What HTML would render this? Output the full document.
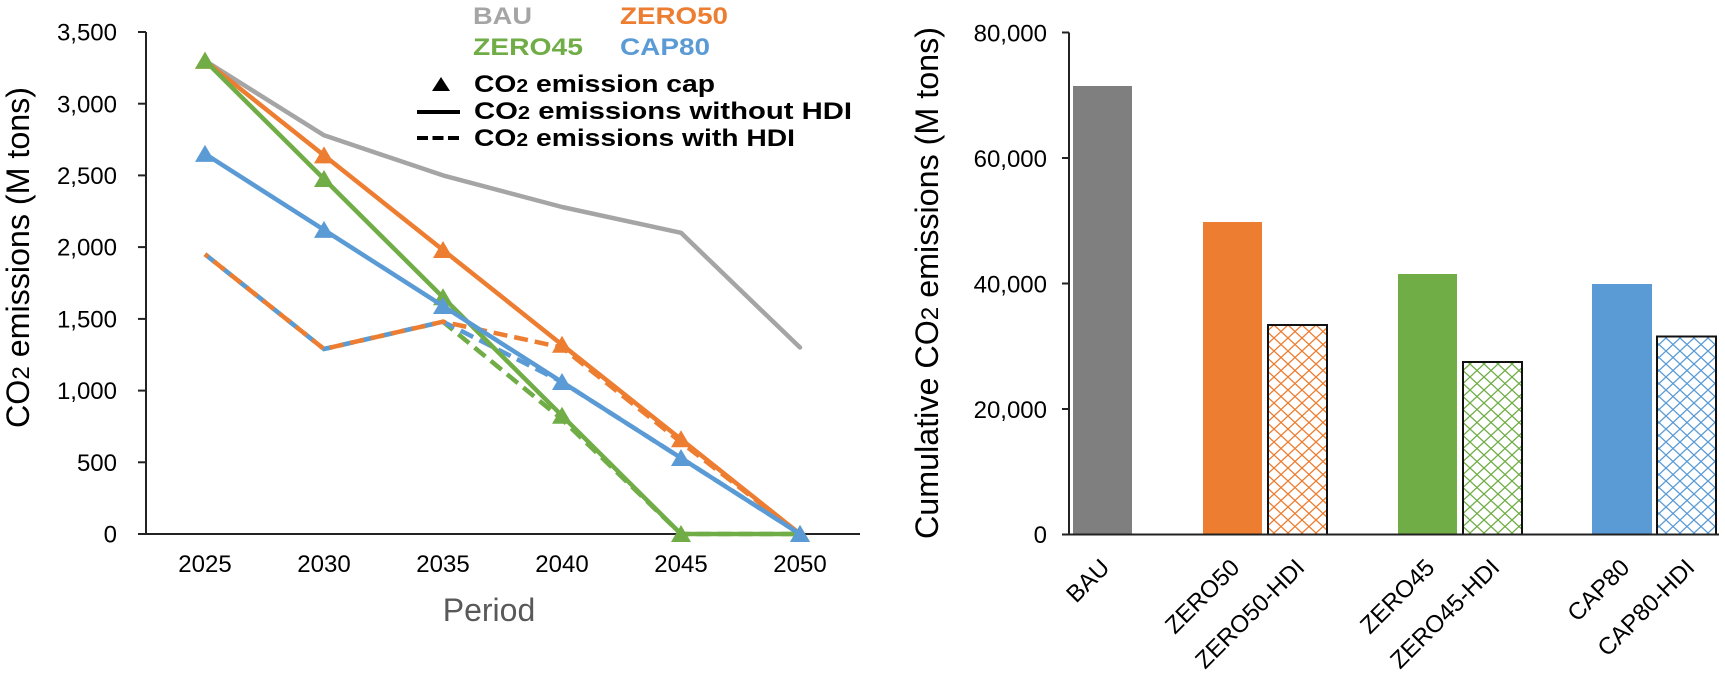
<!DOCTYPE html>
<html>
<head>
<meta charset="utf-8">
<style>
  html, body { margin: 0; padding: 0; background: #ffffff; }
  svg { display: block; }
  text { font-family: "Liberation Sans", Arial, sans-serif; }
</style>
</head>
<body>
<svg width="1725" height="673" viewBox="0 0 1725 673" xmlns="http://www.w3.org/2000/svg">
  <defs>
    <pattern id="hO" patternUnits="userSpaceOnUse" width="14" height="13">
      <path d="M0,0 L14,13 M14,0 L0,13" stroke="#ED7D31" stroke-width="1.3" fill="none"/>
    </pattern>
    <pattern id="hG" patternUnits="userSpaceOnUse" width="14" height="13">
      <path d="M0,0 L14,13 M14,0 L0,13" stroke="#70AD47" stroke-width="1.3" fill="none"/>
    </pattern>
    <pattern id="hB" patternUnits="userSpaceOnUse" width="14" height="13">
      <path d="M0,0 L14,13 M14,0 L0,13" stroke="#5B9BD5" stroke-width="1.3" fill="none"/>
    </pattern>
  </defs>
  <rect x="0" y="0" width="1725" height="673" fill="#ffffff"/>

  <!-- ================= LEFT CHART ================= -->
  <text transform="translate(29,257.5) rotate(-90)" text-anchor="middle" font-size="32" fill="#000" textLength="341" lengthAdjust="spacingAndGlyphs">CO<tspan font-size="24">2</tspan> emissions (M tons)</text>

  <g font-size="24" fill="#000" text-anchor="end">
    <text x="117" y="40.6">3,500</text>
    <text x="117" y="112.3">3,000</text>
    <text x="117" y="184.0">2,500</text>
    <text x="117" y="255.7">2,000</text>
    <text x="117" y="327.4">1,500</text>
    <text x="117" y="399.1">1,000</text>
    <text x="117" y="470.9">500</text>
    <text x="117" y="542.6">0</text>
  </g>

  <g stroke="#222" stroke-width="2" fill="none">
    <line x1="146" y1="32" x2="146" y2="535"/>
    <line x1="138" y1="534" x2="860" y2="534"/>
    <line x1="138" y1="32" x2="146" y2="32"/>
    <line x1="138" y1="103.7" x2="146" y2="103.7"/>
    <line x1="138" y1="175.4" x2="146" y2="175.4"/>
    <line x1="138" y1="247.1" x2="146" y2="247.1"/>
    <line x1="138" y1="318.9" x2="146" y2="318.9"/>
    <line x1="138" y1="390.6" x2="146" y2="390.6"/>
    <line x1="138" y1="462.3" x2="146" y2="462.3"/>
  </g>

  <g font-size="24" fill="#000" text-anchor="middle">
    <text x="205" y="572">2025</text>
    <text x="324" y="572">2030</text>
    <text x="443" y="572">2035</text>
    <text x="562" y="572">2040</text>
    <text x="681" y="572">2045</text>
    <text x="800" y="572">2050</text>
  </g>
  <text x="489" y="621" font-size="32" fill="#595959" text-anchor="middle">Period</text>

  <!-- BAU -->
  <polyline points="205,60.7 324,135.3 443,175.4 562,207 681,232.8 800,347.5" fill="none" stroke="#A5A5A5" stroke-width="4.5" stroke-linejoin="round" stroke-linecap="round"/>

  <!-- Dashed (with HDI) -->
  <polyline points="205,254.3 324,349 443,321.7 562,419.3 681,534 800,534" fill="none" stroke="#70AD47" stroke-width="4.5" stroke-dasharray="14 7"/>
  <polyline points="205,254.3 324,349 443,321.7 562,382 681,458 800,534" fill="none" stroke="#5B9BD5" stroke-width="4.5" stroke-dasharray="14 7"/>
  <polyline points="205,254.3 324,349 443,321.7 562,347.5 681,442.2 800,534" fill="none" stroke="#ED7D31" stroke-width="4.5" stroke-dasharray="14 7" stroke-dashoffset="10"/>

  <!-- ZERO50 solid -->
  <polyline points="205,60.7 324,155.4 443,250 562,344.7 681,439.3 800,534" fill="none" stroke="#ED7D31" stroke-width="4.5" stroke-linejoin="round"/>
  <g fill="#ED7D31">
    <polygon points="195,68.7 215,68.7 205,51.7"/>
    <polygon points="314,163.4 334,163.4 324,146.4"/>
    <polygon points="433,258 453,258 443,241"/>
    <polygon points="552,352.7 572,352.7 562,335.7"/>
    <polygon points="671,447.3 691,447.3 681,430.3"/>
    <polygon points="790,542 810,542 800,525"/>
  </g>

  <!-- ZERO45 solid -->
  <polyline points="205,60.7 324,179 443,297.3 562,415.7 681,534 800,534" fill="none" stroke="#70AD47" stroke-width="4.5" stroke-linejoin="round"/>
  <g fill="#70AD47">
    <polygon points="195,68.7 215,68.7 205,51.7"/>
    <polygon points="314,187 334,187 324,170"/>
    <polygon points="433,305.3 453,305.3 443,288.3"/>
    <polygon points="552,423.7 572,423.7 562,406.7"/>
    <polygon points="671,542 691,542 681,525"/>
    <polygon points="790,542 810,542 800,525"/>
  </g>

  <!-- CAP80 solid -->
  <polyline points="205,153.9 324,229.9 443,306 562,382 681,458 800,534" fill="none" stroke="#5B9BD5" stroke-width="4.5" stroke-linejoin="round"/>
  <g fill="#5B9BD5">
    <polygon points="195,161.9 215,161.9 205,144.9"/>
    <polygon points="314,237.9 334,237.9 324,220.9"/>
    <polygon points="433,314 453,314 443,297"/>
    <polygon points="552,390 572,390 562,373"/>
    <polygon points="671,466 691,466 681,449"/>
    <polygon points="790,542 810,542 800,525"/>
  </g>

  <!-- Legend -->
  <g font-size="24" font-weight="bold">
    <text x="473" y="24" fill="#A5A5A5" textLength="59" lengthAdjust="spacingAndGlyphs">BAU</text>
    <text x="620" y="24" fill="#ED7D31" textLength="108" lengthAdjust="spacingAndGlyphs">ZERO50</text>
    <text x="473" y="55" fill="#70AD47" textLength="110" lengthAdjust="spacingAndGlyphs">ZERO45</text>
    <text x="620" y="55" fill="#5B9BD5" textLength="90" lengthAdjust="spacingAndGlyphs">CAP80</text>
    <polygon points="432,91 450,91 441,77" fill="#000"/>
    <text x="474" y="92" fill="#000" textLength="241" lengthAdjust="spacingAndGlyphs">CO<tspan font-size="18">2</tspan> emission cap</text>
    <line x1="417" y1="112" x2="460" y2="112" stroke="#000" stroke-width="4"/>
    <text x="474" y="119" fill="#000" textLength="378" lengthAdjust="spacingAndGlyphs">CO<tspan font-size="18">2</tspan> emissions without HDI</text>
    <line x1="417" y1="138" x2="460" y2="138" stroke="#000" stroke-width="4" stroke-dasharray="11 4.5"/>
    <text x="474" y="146" fill="#000" textLength="321" lengthAdjust="spacingAndGlyphs">CO<tspan font-size="18">2</tspan> emissions with HDI</text>
  </g>

  <!-- ================= RIGHT CHART ================= -->
  <text transform="translate(938,283) rotate(-90)" text-anchor="middle" font-size="32" fill="#000" textLength="512" lengthAdjust="spacingAndGlyphs">Cumulative CO<tspan font-size="24">2</tspan> emissions (M tons)</text>

  <g font-size="24" fill="#000" text-anchor="end">
    <text x="1047" y="41.3">80,000</text>
    <text x="1047" y="166.8">60,000</text>
    <text x="1047" y="292.3">40,000</text>
    <text x="1047" y="417.8">20,000</text>
    <text x="1047" y="543.1">0</text>
  </g>

  <rect x="1073" y="86" width="59" height="448.5" fill="#7F7F7F"/>
  <rect x="1203" y="222" width="59" height="312.5" fill="#ED7D31"/>
  <rect x="1268" y="325" width="59" height="209.5" fill="#ffffff"/>
  <rect x="1268" y="325" width="59" height="209.5" fill="url(#hO)" stroke="#111" stroke-width="2"/>
  <rect x="1398" y="274" width="59" height="260.5" fill="#70AD47"/>
  <rect x="1463" y="362" width="59" height="172.5" fill="#ffffff"/>
  <rect x="1463" y="362" width="59" height="172.5" fill="url(#hG)" stroke="#111" stroke-width="2"/>
  <rect x="1592" y="284" width="60" height="250.5" fill="#5B9BD5"/>
  <rect x="1657" y="336.5" width="59" height="198" fill="#ffffff"/>
  <rect x="1657" y="336.5" width="59" height="198" fill="url(#hB)" stroke="#111" stroke-width="2"/>

  <g stroke="#222" stroke-width="2" fill="none">
    <line x1="1069" y1="32.5" x2="1069" y2="535"/>
    <line x1="1062" y1="534.5" x2="1719" y2="534.5"/>
    <line x1="1062" y1="32.5" x2="1069" y2="32.5"/>
    <line x1="1062" y1="158" x2="1069" y2="158"/>
    <line x1="1062" y1="283.5" x2="1069" y2="283.5"/>
    <line x1="1062" y1="409" x2="1069" y2="409"/>
  </g>

  <g font-size="24" fill="#000" text-anchor="end">
    <text transform="translate(1111,569) rotate(-45)">BAU</text>
    <text transform="translate(1241,569) rotate(-45)">ZERO50</text>
    <text transform="translate(1306,569) rotate(-45)">ZERO50-HDI</text>
    <text transform="translate(1436,569) rotate(-45)">ZERO45</text>
    <text transform="translate(1501,569) rotate(-45)">ZERO45-HDI</text>
    <text transform="translate(1631,569) rotate(-45)">CAP80</text>
    <text transform="translate(1696,569) rotate(-45)">CAP80-HDI</text>
  </g>
</svg>
</body>
</html>
